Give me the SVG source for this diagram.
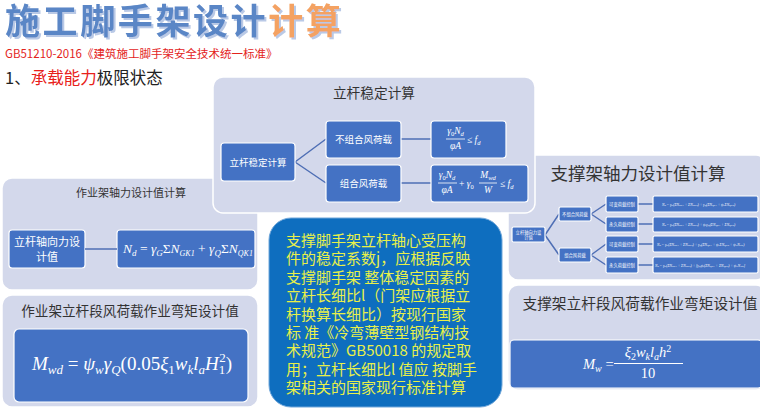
<svg xmlns="http://www.w3.org/2000/svg" width="760" height="409" viewBox="0 0 760 409">
<defs>
<style>
.panel{fill:#d3d8eb;stroke:#ffffff;stroke-width:1.5}
.node{fill:#4472c4;stroke:#ffffff;stroke-width:1.2}
.cn{font-family:"Noto Sans CJK SC",sans-serif}
.lbl{font-family:"Noto Sans CJK SC",sans-serif;fill:#ffffff;text-anchor:middle}
.ttl{font-family:"Noto Sans CJK SC",sans-serif;fill:#333333;text-anchor:middle}
.conn{stroke:#4f6fb5;stroke-width:1.5;fill:none}
.math{font-family:"Liberation Serif","DejaVu Serif",serif;font-style:italic;fill:#ffffff}
.up{font-family:"Liberation Serif","DejaVu Serif",serif;fill:#ffffff}
.tiny{font-family:"Liberation Serif",serif;font-style:italic;fill:#ffffff;font-size:3.6px}
</style>
<filter id="sh" x="-5%" y="-10%" width="110%" height="130%">
<feDropShadow dx="2" dy="2" stdDeviation="0.6" flood-color="#b9c9e6" flood-opacity="1"/>
</filter>
</defs>
<rect width="760" height="409" fill="#ffffff"/>

<g id="header">
<text x="5" y="34" class="cn" font-size="35" font-weight="bold" letter-spacing="2.6" filter="url(#sh)"><tspan fill="#5a86c6">施工脚手架设计</tspan><tspan fill="#f4a262">计算</tspan></text>
<text x="5" y="58" class="cn" font-size="11.5" fill="#e3231c">GB51210-2016《建筑施工脚手架安全技术统一标准》</text>
<text x="5" y="84" class="cn" font-size="16.5" fill="#222222">1、<tspan fill="#e8211a">承载能力</tspan>极限状态</text>
</g>

<!-- left middle panel -->
<g id="panel-zuoye-zhouli">
<rect class="panel" x="2" y="178" width="256" height="112" rx="10"/>
<text class="ttl" x="131" y="197" font-size="11">作业架轴力设计值计算</text>
</g>
<g id="node-ligan-zhouxiangli">
<rect class="node" x="9" y="230" width="76" height="38" rx="3"/>
<text class="lbl" x="47" y="246" font-size="11">立杆轴向力设</text>
<text class="lbl" x="47" y="261" font-size="11">计值</text>
</g>
<g id="node-nd-formula">
<rect class="node" x="117" y="230" width="138" height="38" rx="3"/>
<text class="math" x="123" y="253" font-size="13.5">N<tspan font-size="9" dy="2.5">d</tspan><tspan dy="-2.5" font-style="normal"> = </tspan>γ<tspan font-size="9" dy="2.5">G</tspan><tspan dy="-2.5" font-style="normal">Σ</tspan>N<tspan font-size="8" dy="2.5">GK1</tspan><tspan dy="-2.5" font-style="normal"> + </tspan>γ<tspan font-size="9" dy="2.5">Q</tspan><tspan dy="-2.5" font-style="normal">Σ</tspan>N<tspan font-size="8" dy="2.5">QK1</tspan></text>
</g>

<!-- left bottom panel -->
<g id="panel-zuoye-wanju">
<rect class="panel" x="2" y="295" width="256" height="112" rx="10"/>
<text class="ttl" x="130" y="316" font-size="13.6">作业架立杆段风荷载作业弯矩设计值</text>
<rect class="node" x="14" y="329" width="234" height="73" rx="5"/>
<text class="math" x="32" y="370" font-size="19">M<tspan font-size="13" dy="4">wd</tspan><tspan dy="-4" font-style="normal"> = </tspan>ψ<tspan font-size="13" dy="4">w</tspan><tspan dy="-4">γ</tspan><tspan font-size="13" dy="4">Q</tspan><tspan dy="-4" font-style="normal">(0.05</tspan>ξ<tspan font-size="13" dy="4" font-style="normal">1</tspan><tspan dy="-4">w</tspan><tspan font-size="13" dy="4">k</tspan><tspan dy="-4">l</tspan><tspan font-size="13" dy="4">a</tspan><tspan dy="-4">H</tspan><tspan font-size="13" dy="4" font-style="normal">1</tspan><tspan font-size="13" dy="-12" dx="-6" font-style="normal">2</tspan><tspan dy="8" font-style="normal">)</tspan></text>
</g>

<!-- right top panel -->
<g id="panel-zhicheng-zhouli">
<rect class="panel" x="508" y="155" width="258" height="125" rx="10"/>
<text class="ttl" x="638" y="180" font-size="17.5">支撑架轴力设计值计算</text>
</g>
<g id="connectors-right">
<path class="conn" stroke-width="1" d="M545,235 L559,214 M545,235 L559,255 M591,214 L606,204 M591,214 L606,224 M591,255 L606,244 M591,255 L606,265 M638,204 H653 M638,224 H653 M638,244 H653 M638,265 H653"/>
</g>
<g id="r-root"><rect class="node" stroke-width="0.8" x="512" y="227" width="33" height="15" rx="1.5"/><text class="lbl" x="528.5" y="233.5" font-size="4.3">立杆轴向力设</text><text class="lbl" x="528.5" y="239" font-size="4.3">计值</text></g>
<g id="r-nowind"><rect class="node" stroke-width="0.8" x="559" y="207" width="32" height="14" rx="1.5"/><text class="lbl" x="575" y="215.5" font-size="4.3">不组合风荷载</text></g>
<g id="r-wind"><rect class="node" stroke-width="0.8" x="559" y="248" width="32" height="14" rx="1.5"/><text class="lbl" x="575" y="256.5" font-size="4.3">组合风荷载</text></g>
<g id="r-c1"><rect class="node" stroke-width="0.8" x="606" y="196" width="32" height="16" rx="1.5"/><text class="lbl" x="622" y="205.5" font-size="4.3">可变荷载控制</text></g>
<g id="r-c2"><rect class="node" stroke-width="0.8" x="606" y="217" width="32" height="15" rx="1.5"/><text class="lbl" x="622" y="226" font-size="4.3">永久荷载控制</text></g>
<g id="r-c3"><rect class="node" stroke-width="0.8" x="606" y="236" width="32" height="16" rx="1.5"/><text class="lbl" x="622" y="245.5" font-size="4.3">可变荷载控制</text></g>
<g id="r-c4"><rect class="node" stroke-width="0.8" x="606" y="257" width="32" height="16" rx="1.5"/><text class="lbl" x="622" y="266.5" font-size="4.3">永久荷载控制</text></g>
<g id="r-f1"><rect class="node" stroke-width="0.8" x="653" y="196" width="105" height="16" rx="1.5"/><text class="tiny" x="662" y="205.5">N<tspan font-size="2.6">d</tspan> = γ<tspan font-size="2.6">G</tspan>(ΣN<tspan font-size="2.6">GK1</tspan> + ΣN<tspan font-size="2.6">GK2</tspan>) + γ<tspan font-size="2.6">Q</tspan>(ΣN<tspan font-size="2.6">QK1</tspan> + ψ<tspan font-size="2.6">c</tspan>ΣN<tspan font-size="2.6">QK2</tspan>)</text></g>
<g id="r-f2"><rect class="node" stroke-width="0.8" x="653" y="217" width="105" height="15" rx="1.5"/><text class="tiny" x="662" y="226">N<tspan font-size="2.6">d</tspan> = γ<tspan font-size="2.6">G</tspan>(ΣN<tspan font-size="2.6">GK1</tspan> + ΣN<tspan font-size="2.6">GK2</tspan>) + ψ<tspan font-size="2.6">c</tspan>γ<tspan font-size="2.6">Q</tspan>(ΣN<tspan font-size="2.6">QK1</tspan> + ΣN<tspan font-size="2.6">QK2</tspan>)</text></g>
<g id="r-f3"><rect class="node" stroke-width="0.8" x="653" y="236" width="105" height="16" rx="1.5"/><text class="tiny" x="657" y="245.5">N<tspan font-size="2.6">d</tspan> = γ<tspan font-size="2.6">G</tspan>(ΣN<tspan font-size="2.6">GK1</tspan> + ΣN<tspan font-size="2.6">GK2</tspan>) + γ<tspan font-size="2.6">Q</tspan>(ΣN<tspan font-size="2.6">QK1</tspan> + ψ<tspan font-size="2.6">c</tspan>ΣN<tspan font-size="2.6">QK2</tspan> + ψ<tspan font-size="2.6">w</tspan>N<tspan font-size="2.6">wtk</tspan>)</text></g>
<g id="r-f4"><rect class="node" stroke-width="0.8" x="653" y="257" width="105" height="16" rx="1.5"/><text class="tiny" x="655" y="266.5">N<tspan font-size="2.6">d</tspan> = γ<tspan font-size="2.6">G</tspan>(ΣN<tspan font-size="2.6">GK1</tspan> + ΣN<tspan font-size="2.6">GK2</tspan>) + [γ<tspan font-size="2.6">Q</tspan>ψ<tspan font-size="2.6">c</tspan>(ΣN<tspan font-size="2.6">QK1</tspan> + ΣN<tspan font-size="2.6">QK2</tspan>) + ψ<tspan font-size="2.6">w</tspan>N<tspan font-size="2.6">wtk</tspan>]</text></g>

<!-- right bottom panel -->
<g id="panel-zhicheng-wanju">
<rect class="panel" x="508" y="285" width="258" height="105" rx="10"/>
<text class="ttl" x="640" y="309" font-size="14.7">支撑架立杆段风荷载作业弯矩设计值</text>
<rect class="node" x="510" y="340" width="252" height="48" rx="4"/>
<text class="math" x="583" y="369" font-size="14.5">M<tspan font-size="10" dy="3">w</tspan><tspan dy="-3" font-style="normal"> =</tspan></text>
<text class="math" x="648" y="357" font-size="14.5" text-anchor="middle">ξ<tspan font-size="10" dy="3" font-style="normal">2</tspan><tspan dy="-3">w</tspan><tspan font-size="10" dy="3">k</tspan><tspan dy="-3">l</tspan><tspan font-size="10" dy="3">a</tspan><tspan dy="-3">h</tspan><tspan font-size="10" dy="-5" font-style="normal">2</tspan></text>
<line x1="614" y1="363.5" x2="683" y2="363.5" stroke="#ffffff" stroke-width="1"/>
<text class="up" x="648" y="378" font-size="14.5" text-anchor="middle">10</text>
</g>

<!-- center top panel (drawn over neighbours) -->
<g id="panel-ligan-wending">
<rect class="panel" x="213" y="77" width="322" height="136" rx="10"/>
<text class="ttl" x="374" y="98" font-size="13.7">立杆稳定计算</text>
</g>
<g id="connectors-center">
<path class="conn" d="M295,162 L326,139 M295,162 L326,183 M401,139 H431 M401,183 H431"/>
<line class="conn" x1="85" y1="249" x2="117" y2="249"/>
</g>
<g id="node-wending-root">
<rect class="node" x="221" y="143" width="74" height="38" rx="3"/>
<text class="lbl" x="258" y="165.5" font-size="9.5">立杆稳定计算</text>
</g>
<g id="node-buzuhe">
<rect class="node" x="326" y="121" width="75" height="37" rx="3"/>
<text class="lbl" x="363.5" y="143" font-size="9.5">不组合风荷载</text>
</g>
<g id="node-zuhe">
<rect class="node" x="326" y="165" width="75" height="37" rx="3"/>
<text class="lbl" x="363.5" y="187" font-size="9.5">组合风荷载</text>
</g>
<g id="node-formula1">
<rect class="node" x="431" y="121" width="75" height="37" rx="3"/>
<text class="math" x="455.5" y="134" font-size="9.5" text-anchor="middle">γ<tspan font-size="6.5" dy="2" font-style="normal">0</tspan><tspan dy="-2">N</tspan><tspan font-size="6.5" dy="2">d</tspan></text>
<line x1="446" y1="139" x2="465" y2="139" stroke="#ffffff" stroke-width="0.8"/>
<text class="math" x="455.5" y="149" font-size="9.5" text-anchor="middle">φA</text>
<text class="math" x="467" y="142.5" font-size="9.5"><tspan font-style="normal">≤ </tspan>f<tspan font-size="6.5" dy="2">d</tspan></text>
</g>
<g id="node-formula2">
<rect class="node" x="431" y="165" width="97" height="37" rx="3"/>
<text class="math" x="447" y="178" font-size="9.5" text-anchor="middle">γ<tspan font-size="6.5" dy="2" font-style="normal">0</tspan><tspan dy="-2">N</tspan><tspan font-size="6.5" dy="2">d</tspan></text>
<line x1="438" y1="183" x2="457" y2="183" stroke="#ffffff" stroke-width="0.8"/>
<text class="math" x="447" y="193" font-size="9.5" text-anchor="middle">φA</text>
<text class="math" x="459" y="186.5" font-size="9.5"><tspan font-style="normal">+ </tspan>γ<tspan font-size="6.5" dy="2" font-style="normal">0</tspan></text>
<text class="math" x="488" y="178" font-size="9.5" text-anchor="middle">M<tspan font-size="6.5" dy="2">wd</tspan></text>
<line x1="479" y1="183" x2="497" y2="183" stroke="#ffffff" stroke-width="0.8"/>
<text class="math" x="488" y="193" font-size="9.5" text-anchor="middle">W</text>
<text class="math" x="500" y="186.5" font-size="9.5"><tspan font-style="normal">≤ </tspan>f<tspan font-size="6.5" dy="2">d</tspan></text>
</g>

<!-- center note -->
<g id="note">
<rect x="269" y="218" width="233" height="189" rx="22" fill="#0e6ebf" stroke="#6fa6da" stroke-width="1"/>
<g class="cn" font-size="15" fill="#e8f04a">
<text x="286" y="246">支撑脚手架立杆轴心受压构</text>
<text x="286" y="264.4">件的稳定系数j，应根据反映</text>
<text x="286" y="282.8">支撑脚手架 整体稳定因素的</text>
<text x="286" y="301.2">立杆长细比l（门架应根据立</text>
<text x="286" y="319.6">杆换算长细比）按现行国家</text>
<text x="286" y="338">标 准《冷弯薄壁型钢结构技</text>
<text x="286" y="356.4">术规范》GB50018 的规定取</text>
<text x="286" y="374.8">用；立杆长细比l 值应 按脚手</text>
<text x="286" y="393.2">架相关的国家现行标准计算</text>
</g>
</g>
</svg>
